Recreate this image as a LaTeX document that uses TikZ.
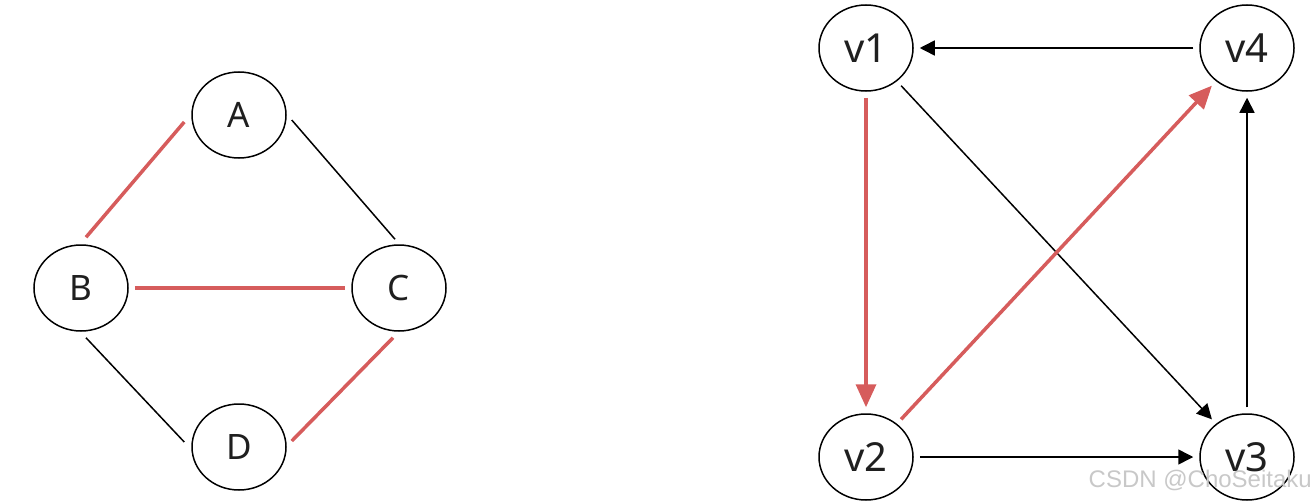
\documentclass[tikz,border=0pt]{standalone}
\usepackage{fontspec}
\setmainfont{Noto Sans}
\newfontfamily\wmfont{Liberation Sans}
\usetikzlibrary{shapes.geometric,arrows.meta}
\definecolor{hred}{RGB}{214,92,92}
\definecolor{wmgray}{RGB}{200,200,200}
\tikzset{
  vert/.style={draw=black, line width=1.5pt, ellipse, minimum width=94pt, minimum height=86pt, inner sep=0pt, font=\fontsize{35}{40}\selectfont, text=black!88},
  vertb/.style={vert, font=\fontsize{40}{46}\selectfont},
  blk0/.style={draw=black, line width=1.5pt},
  red0/.style={draw=hred, line width=3.5pt},
  blk/.style={blk0, shorten <=6pt, shorten >=6pt},
  redl/.style={red0, shorten <=6pt, shorten >=6pt},
  blkarr/.style={blk, -{Triangle[length=15pt,width=15pt]}},
  redarr/.style={redl, -{Triangle[length=23pt,width=20pt]}},
}
\begin{document}
\begin{tikzpicture}[x=1pt,y=-1pt]
\useasboundingbox (0,0) rectangle (1316,503);
% left graph
\node[vert] (A) at (239,115) {A};
\node[vert] (B) at (81,288) {B};
\node[vert] (C) at (399,288) {C};
\node[vert] (D) at (239,447) {D};
\draw[red0] ([shift={(5,-7)}]B.north) -- ([shift={(-7,7)}]A.west);
\draw[blk0] ([shift={(5,5)}]A.east) -- ([shift={(-4,-5)}]C.north);
\draw[redl] (B) -- (C);
\draw[blk0] ([shift={(5,6)}]B.south) -- ([shift={(-7,-5)}]D.west);
\draw[red0] ([shift={(-6,6)}]C.south) -- ([shift={(5,-6)}]D.east);
% right graph
\node[vertb] (v1) at (866,48) {v1};
\node[vertb] (v4) at (1247,48) {v4};
\node[vertb] (v2) at (866,457) {v2};
\node[vertb] (v3) at (1247,457) {v3};
\draw[blkarr] (v4) -- (v1);
\draw[blkarr] (v1) -- (v3);
\draw[blkarr] (v3) -- (v4);
\draw[blkarr] (v2) -- (v3);
\draw[redarr] (v1) -- (v2);
\draw[redarr] (v2) -- (v4);
% watermark
\node[anchor=east, inner sep=0pt, text=wmgray, font=\wmfont\fontsize{24}{28}\selectfont] (wm) at (1312,480) {CSDN @ChoSeitaku};
\end{tikzpicture}
\end{document}
